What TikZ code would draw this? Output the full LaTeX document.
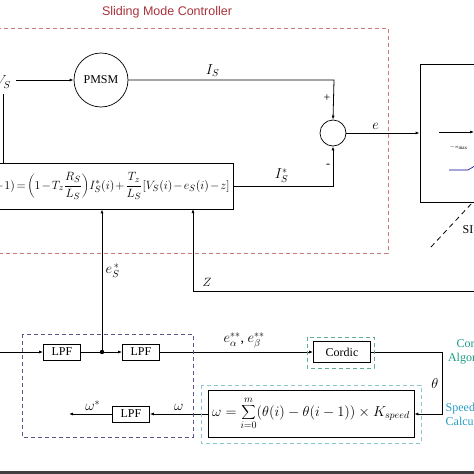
\documentclass[tikz,border=0pt]{standalone}
\usepackage{fontspec}
\setmainfont{Liberation Serif}
\newfontfamily\titlefont{Liberation Sans}
\usepackage{tikz}
\usepackage{xcolor}
\usetikzlibrary{arrows.meta, positioning, calc}
\definecolor{SMCRed}{HTML}{A8323A}
\definecolor{SMCRedDash}{HTML}{CC7A7A}
\definecolor{LPFBlue}{HTML}{56568A}
\definecolor{CordicGreen}{HTML}{5FAF98}
\definecolor{CordicText}{HTML}{1E9C86}
\definecolor{SpeedDash}{HTML}{8CC6CF}
\definecolor{SpeedText}{HTML}{2A9CC4}

\begin{document}
\begin{tikzpicture}[x=1pt, y=-1pt, font=\fontsize{12}{14}\selectfont, line width=0.8pt,
        >={Latex[length=4pt,width=3pt]},
        block/.style={rectangle, draw, line width=0.7pt, inner sep=3pt, align=center},
        lpf/.style={block, minimum width=37pt, minimum height=16pt, inner sep=1pt},
        ring/.style={circle, draw, line width=0.7pt, inner sep=0pt},
        group/.style={dashed, line width=0.7pt, dash pattern=on 4pt off 3pt},
        big/.style={font=\fontsize{14}{16}\selectfont}]

        \useasboundingbox (0,0) rectangle (474,474);

        % sliding mode controller
        \node[text=SMCRed, font=\titlefont\fontsize{12.5}{14}\selectfont] (title) at (167,12) {Sliding Mode Controller};
        \draw[group, SMCRedDash] (-10,28) -| (388,253) -- (-10,253);

        \node[ring, minimum size=54pt] (pmsm) at (101,80) {PMSM};
        \node[ring, minimum size=26pt] (sum) at (333,133) {};
        \node[big] (vs) at (3,82) {$V_S$};
        \coordinate (vsin) at (16,80);

        \node[block, minimum height=46pt, anchor=east, inner sep=4pt, font=\fontsize{12.5}{15}\selectfont] (eqn) at (234,186)
            {$\medmuskip=1.5mu \thickmuskip=2.5mu \displaystyle I_S^*(i+1)=\left(1-T_z\frac{R_S}{L_S}\right)\!I_S^*(i)+\frac{T_z}{L_S}\bigl[V_S(i)-e_S(i)-z\bigr]$};

        \node[block, minimum width=110pt, minimum height=138pt] (smc) at (475,133) {};

        \path[->]
        (vsin) edge[] (pmsm)
        (sum) edge[] node[above, pos=0.4, big] {$e$} (smc.west);
        \draw (3,94) -- (3,163);
        \draw[->] (pmsm) -- node[above, pos=0.41, big] {$I_S$} (334,80) -- (sum.north);
        \draw[->] (eqn.east) -- node[above, pos=0.48, big] {$I_S^*$} (333,186) -- (sum.south);
        \node (plus) at (327,98) {+};
        \node (minus) at (328,166) {-};

        % inside of the sliding mode block
        \draw[->, line width=0.6pt] (439,132) -- (474,132);
        \node[font=\tiny, anchor=west] (emax) at (446,147) {$-e_{\max}$};
        \draw[blue!60!black, line width=0.6pt] (449,170) -- (468,170) -- (478,164);
        \draw[dashed, line width=0.8pt, dash pattern=on 5pt off 4pt] (431,247) -- (472,203);
        \node[anchor=west] (slab) at (459,230) {SI};

        % estimated back emf and z
        \node[lpf] (lpfA) at (62,352) {LPF};
        \node[lpf] (lpfB) at (141,352) {LPF};
        \node[block, minimum width=57pt, minimum height=21pt] (cordic) at (342,352) {Cordic};
        \coordinate (dot) at (102,352);
        \coordinate (zin) at (480,291);
        \coordinate (ein) at (-5,352);
        \fill (dot) circle (2.2pt);

        \draw[->] (dot) -- node[right, pos=0.57, big] {$e_S^{\,*}$} (dot |- eqn.south);
        \draw[->] (zin) -- (193,291) -- (193,209);
        \node (zlab) at (207,282) {$Z$};

        \path[->]
        (ein) edge[] (lpfA)
        (lpfA) edge[] (lpfB)
        (lpfB) edge[] node[above, pos=0.55, big] {$e_\alpha^{**}$, $e_\beta^{**}$} (cordic);

        % speed calculation
        \node[block, minimum width=206pt, minimum height=47pt, inner sep=2pt, font=\fontsize{14}{16}\selectfont] (speed) at (311,413.5)
            {$\displaystyle \omega=\sum_{i=0}^{m}\Bigl(\theta\bigl(i\bigr)-\theta\bigl(i-1\bigr)\Bigr)\times K_{speed}$};
        \node[lpf] (lpfC) at (131,414) {LPF};
        \coordinate (wout) at (69,414);

        \draw[->] (cordic.east) -- (442,352) -- node[left, big] {$\theta$} (442,414) -- (speed.east |- 0,414);
        \draw[->] (speed.west |- 0,414) -- node[above, big] {$\omega$} (lpfC.east);
        \draw[->] (lpfC.west) -- node[above, pos=0.45, big] {$\omega^*$} (wout);

        % groups
        \draw[group, LPFBlue] (22,334) rectangle (193,437);
        \draw[group, CordicGreen] (307,337) rectangle (374,368);
        \draw[group, SpeedDash] (201,385) rectangle (421,443);
        \node[text=CordicText, align=center] (cordlab) at (473,352) {Cordic\\Algorithm};
        \node[text=SpeedText, align=left, anchor=west] (speedlab) at (442,414) {Speed\\Calculation};

        \fill[black!75] (0,471) rectangle (474,474);

    \end{tikzpicture}
\end{document}
